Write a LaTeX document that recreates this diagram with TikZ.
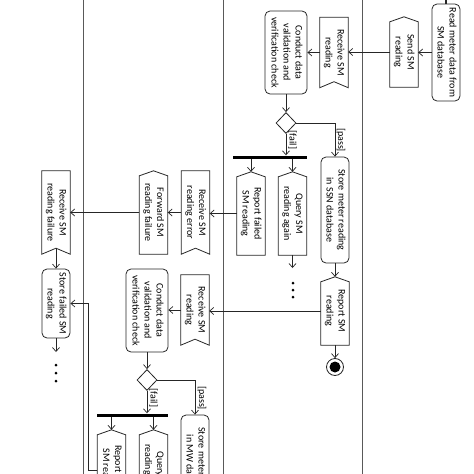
\documentclass[tikz,border=0pt]{standalone}
\usepackage{fontspec}
\setmainfont{Carlito}
\usepackage{graphicx}
\usetikzlibrary{arrows.meta,shapes.geometric,calc}
\newcommand\rtxt[1]{\rotatebox{-90}{\begin{tabular}{@{}c@{}}#1\end{tabular}}}
\tikzset{
  every node/.style={inner sep=0pt, font=\fontsize{10}{12}\selectfont},
  outl/.style={draw=black!85, line width=0.8pt},
  rbox/.style={outl, rounded corners=5pt},
  sbox/.style={draw=none},
  arr/.style={-{Straight Barb[length=4pt,width=7pt]}, line width=0.7pt, black!85},
  lane/.style={line width=0.8pt, black!65},
  bar/.style={fill=black, minimum height=3pt},
  dec/.style={diamond, outl, aspect=1, minimum width=20pt, minimum height=21pt},
  lbl/.style={font=\fontsize{10}{12}\selectfont},
  endnode/.style={circle, outl, minimum size=17pt,
    path picture={\fill[black] (path picture bounding box.center) circle (5.5pt);}}
}
\newcommand\sendout[1]{\draw[outl] (#1.south west) -- ($(#1.north west)+(0,-5pt)$) -- (#1.north) -- ($(#1.north east)+(0,-5pt)$) -- (#1.south east) -- cycle;}
\newcommand\recvout[1]{\draw[outl] (#1.north west) -- (#1.north east) -- (#1.south east) -- ($(#1.south)+(0,6pt)$) -- (#1.south west) -- cycle;}
\begin{document}
\begin{tikzpicture}[x=1pt,y=-1pt]
\useasboundingbox (0,0) rectangle (474,474);
\clip (0,0) rectangle (474,474);
% lanes
\draw[lane] (83,0) -- (83,474);
\draw[lane] (223,0) -- (223,474);
\draw[lane] (362,0) -- (362,474);

% lane 4
\node[rbox, minimum width=28pt, minimum height=97pt] (read) at (446,52.5) {\rtxt{Read meter data from\\SM database}};
\node[sbox, minimum width=28pt, minimum height=70pt] (send1) at (404,52) {\rtxt{Send SM\\reading}};
\sendout{send1}

% lane 3
\node[sbox, minimum width=28pt, minimum height=70pt] (recv1) at (334,52.5) {\rtxt{Receive SM\\reading}};
\recvout{recv1}
\node[rbox, minimum width=42pt, minimum height=83pt] (conduct1) at (286,52.5) {\rtxt{Conduct data\\validation and\\verification check}};
\node[dec] (dec1) at (286,123) {};
\node[bar, minimum width=74pt] (fork1) at (270,157) {};
\node[rbox, minimum width=28pt, minimum height=106pt] (store1) at (335,210) {\rtxt{Store meter reading\\in SSN database}};
\node[sbox, minimum width=28pt, minimum height=83pt] (repfail1) at (251,213.5) {\rtxt{Report failed\\SM reading}};
\sendout{repfail1}
\node[sbox, minimum width=28pt, minimum height=83pt] (query1) at (292.5,213.5) {\rtxt{Query SM\\reading again}};
\sendout{query1}
\node[sbox, minimum width=28pt, minimum height=68pt] (report1) at (335,311) {\rtxt{Report SM\\reading}};
\sendout{report1}
\node[endnode] (end1) at (335,367) {};
\node[lbl] (pass1) at (340.5,140) {\rtxt{[pass]}};
\node[lbl] (fail1) at (292,140) {\rtxt{[fail]}};
\coordinate (q1end) at (292.5,268);

% lane 2
\node[sbox, minimum width=28pt, minimum height=83pt] (recverr) at (195.5,212.5) {\rtxt{Receive SM\\reading error}};
\recvout{recverr}
\node[sbox, minimum width=28pt, minimum height=83pt] (fwd) at (153.5,212.5) {\rtxt{Forward SM\\reading failure}};
\sendout{fwd}
\node[sbox, minimum width=28pt, minimum height=70pt] (recv2) at (195,310) {\rtxt{Receive SM\\reading}};
\recvout{recv2}
\node[rbox, minimum width=42pt, minimum height=83pt] (conduct2) at (147,310.5) {\rtxt{Conduct data\\validation and\\verification check}};
\node[dec] (dec2) at (147,380) {};
\node[bar, minimum width=71pt] (fork2) at (132.5,415) {};
\node[rbox, minimum width=28pt, minimum height=106pt] (store2) at (195,468) {\rtxt{Store meter reading\\in MW database}};
\node[sbox, minimum width=28pt, minimum height=83pt] (repfail2) at (111.5,471.5) {\rtxt{Report failed\\SM reading}};
\sendout{repfail2}
\node[sbox, minimum width=28pt, minimum height=83pt] (query2) at (153.5,471.5) {\rtxt{Query SM\\reading again}};
\sendout{query2}
\node[lbl] (pass2) at (201.5,398) {\rtxt{[pass]}};
\node[lbl] (fail2) at (153,398) {\rtxt{[fail]}};

% lane 1
\node[sbox, minimum width=28pt, minimum height=83pt] (recvfail) at (56,212.5) {\rtxt{Receive SM\\reading failure}};
\recvout{recvfail}
\node[rbox, minimum width=28pt, minimum height=69pt] (storefail) at (56,303.5) {\rtxt{Store failed SM\\reading}};
\coordinate (sfend) at (56,352);

% connectors
\coordinate (init) at (446,-8);
\draw[line width=1.6pt, black!85] (init) -- (read.north);
\draw[arr] (read.west) -- (read.west -| send1.east);
\draw[arr] (send1.west) -- (send1.west -| recv1.east);
\draw[arr] (recv1.west) -- (recv1.west -| conduct1.east);
\draw[arr] (conduct1.south) -- (dec1.north);
\draw[arr] (dec1.east) -| (store1.north);
\draw[arr] (dec1.south) -- (dec1.south |- fork1.north);
\draw[arr] (fork1.south -| repfail1.north) -- (repfail1.north);
\draw[arr] (fork1.south -| query1.north) -- (query1.north);
\draw[arr] (query1.south) -- (q1end);
\draw[arr] (store1.south) -- (report1.north);
\draw[arr] (report1.south) -- (end1.north);
\draw[arr] (report1.west) -- (report1.west -| recv2.east);
\draw[arr] (repfail1.west) -- (repfail1.west -| recverr.east);
\draw[arr] (recverr.west) -- (recverr.west -| fwd.east);
\draw[arr] (fwd.west) -- (fwd.west -| recvfail.east);
\draw[arr] ($(recvfail.south)+(0,6pt)$) -- (storefail.north);
\draw[arr] (storefail.south) -- (sfend);
\draw[arr] (recv2.west) -- (recv2.west -| conduct2.east);
\draw[arr] (conduct2.south) -- (dec2.north);
\draw[arr] (dec2.east) -| (store2.north);
\draw[arr] (dec2.south) -- (dec2.south |- fork2.north);
\draw[arr] (fork2.south -| repfail2.north) -- (repfail2.north);
\draw[arr] (fork2.south -| query2.north) -- (query2.north);
\draw[arr] ($(repfail2.west)+(0,1.5pt)$) -- ++(-9pt,0) |- (storefail.east);

% continuation dots
\foreach \yy in {283,290,297} \fill (293,\yy) circle (1.5pt);
\foreach \yy in {365,373,381} \fill (56,\yy) circle (1.5pt);
\end{tikzpicture}
\end{document}
